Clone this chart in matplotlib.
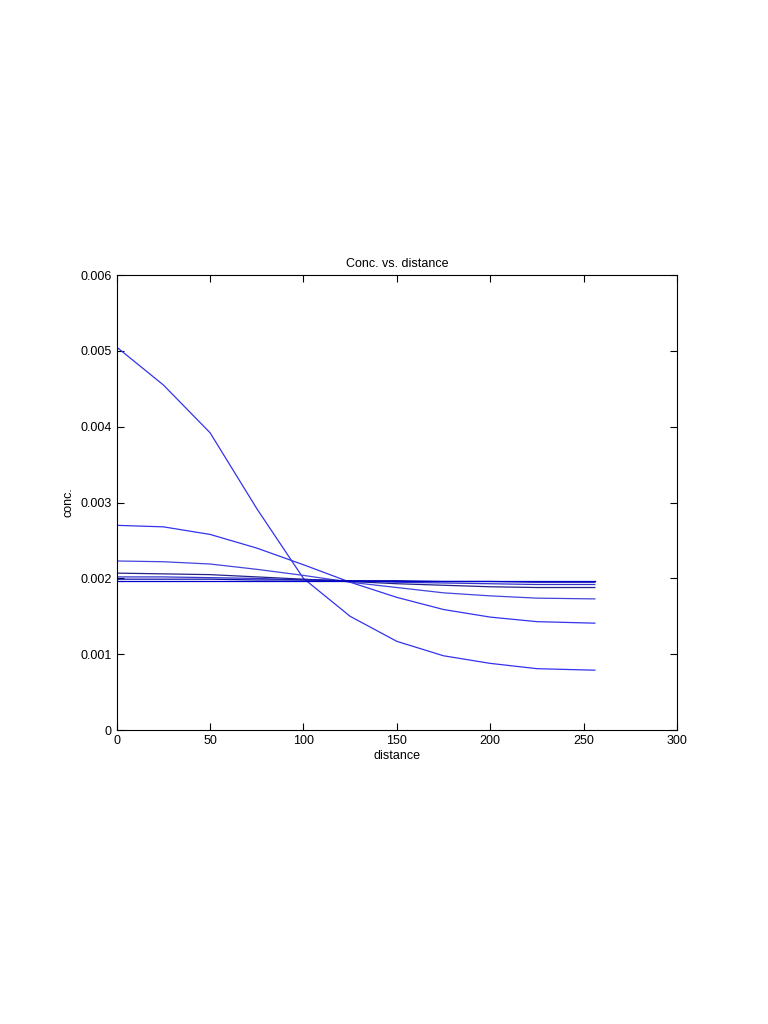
import matplotlib
matplotlib.use("Agg")
from matplotlib import pyplot as plt

plt.rcParams['font.family'] = ['Liberation Sans', 'DejaVu Sans']

distance = [0, 25, 50, 75, 100, 125, 150, 175, 200, 225, 256]
conc_curves = [
    [0.00505, 0.00455, 0.00392, 0.00292, 0.00200, 0.00150, 0.00117, 0.00098, 0.00088, 0.00081, 0.00079],
    [0.00270, 0.00268, 0.00258, 0.00240, 0.00218, 0.00195, 0.00175, 0.00159, 0.00149, 0.00143, 0.00141],
    [0.00223, 0.00222, 0.00219, 0.00212, 0.00204, 0.00195, 0.00188, 0.00181, 0.00177, 0.00174, 0.00173],
    [0.00207, 0.00206, 0.00205, 0.00202, 0.00199, 0.00196, 0.00193, 0.00191, 0.00189, 0.00188, 0.00188],
    [0.00202, 0.00202, 0.00201, 0.00200, 0.00198, 0.00197, 0.00195, 0.00194, 0.00193, 0.00192, 0.00192],
    [0.00199, 0.00199, 0.00199, 0.00198, 0.00198, 0.00197, 0.00197, 0.00196, 0.00196, 0.00195, 0.00195],
    [0.00197, 0.00197, 0.00197, 0.00197, 0.00197, 0.00197, 0.00197, 0.00197, 0.00197, 0.00197, 0.00197],
]
colors = ['#3333ee', '#3333ee', '#4444dd', '#222288', '#3333cc', '#1111aa', '#0000cc']

fig = plt.figure(figsize=(7.68, 10.24), dpi=100)
ax = fig.add_axes([0.152, 0.287, 0.7295, 0.4444])
for c, col in zip(conc_curves, colors):
    ax.plot(distance, c, color=col, linewidth=0.9)

ax.set_xlim(0, 300)
ax.set_ylim(0, 0.006)
ax.set_xticks([0, 50, 100, 150, 200, 250, 300])
ax.set_yticks([0, 0.001, 0.002, 0.003, 0.004, 0.005, 0.006])
ax.set_yticklabels(['0', '0.001', '0.002', '0.003', '0.004', '0.005', '0.006'])
ax.tick_params(direction='in', top=True, right=True, labelsize=9, length=5)
ax.set_title("Conc. vs. distance", fontsize=9)
ax.set_xlabel("distance", fontsize=9, labelpad=2)
ax.set_ylabel("conc.", fontsize=9)

fig.savefig("out.png", dpi=100)
